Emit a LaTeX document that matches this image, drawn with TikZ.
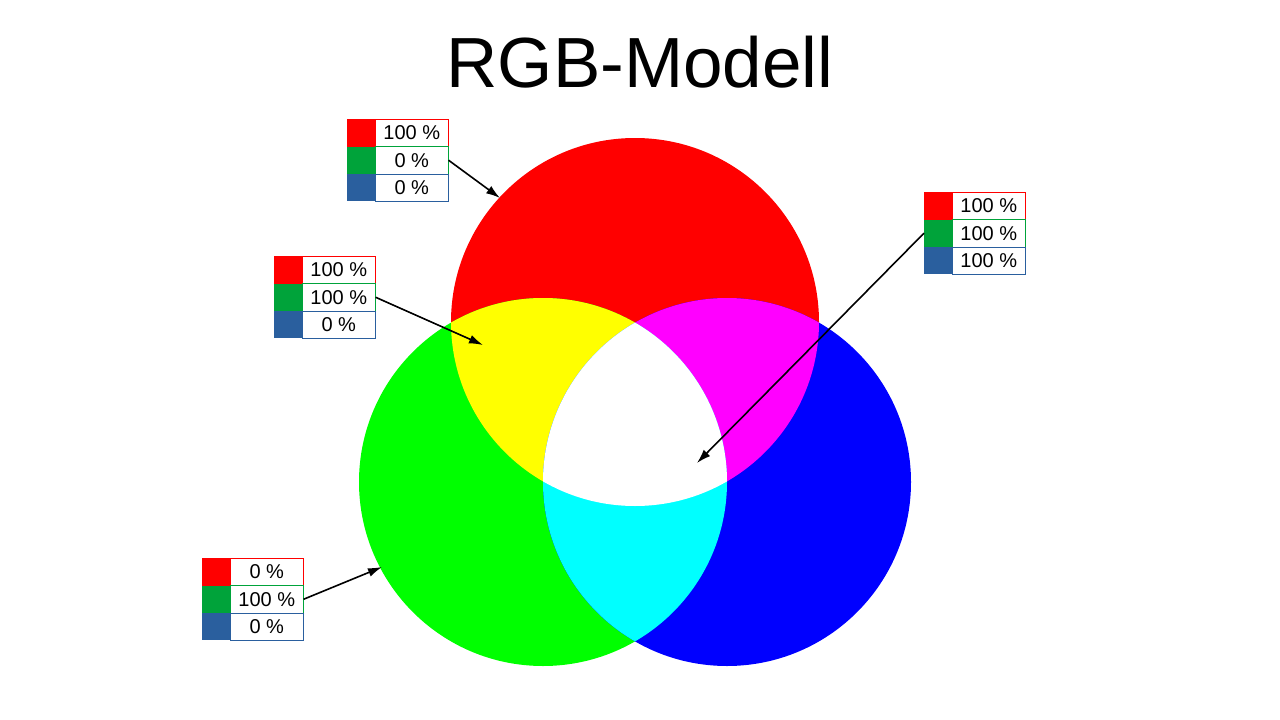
\documentclass[tikz,border=0pt]{standalone}
\usepackage{fontspec}
\setmainfont{Liberation Sans}
\usetikzlibrary{arrows.meta}
\definecolor{lr}{HTML}{FF0000}
\definecolor{lg}{HTML}{00A33A}
\definecolor{lb}{HTML}{2A5F9E}
\definecolor{cR}{HTML}{FF0000}
\definecolor{cG}{HTML}{00FF00}
\definecolor{cB}{HTML}{0000FF}
\definecolor{cY}{HTML}{FFFF00}
\definecolor{cM}{HTML}{FF00FF}
\definecolor{cC}{HTML}{00FFFF}
\tikzset{
 sq/.style={minimum width=28pt,minimum height=27.3pt,inner sep=0pt,anchor=north west},
 cell/.style={draw=#1,line width=0.6pt,minimum width=73pt,minimum height=27.3pt,inner sep=0pt,anchor=north west,font=\fontsize{20}{20}\selectfont},
 arr/.style={-{Latex[length=14pt,width=9pt]},line width=1.6pt}
}
\newcommand{\lgnd}[5]{%
 \node[sq,fill=lr] (#1r) at (#2,#3) {};
 \node[sq,fill=lg] (#1g) at (#2,#3+27.3) {};
 \node[sq,fill=lb] (#1b) at (#2,#3+54.6) {};
 \node[cell=lr] (#1tr) at (#2+28,#3) {#4};
 \node[cell=lg] (#1tg) at (#2+28,#3+27.3) {#5};
 \node[cell=lb] (#1tb) at (#2+28,#3+54.6) {0 \%};
}
\begin{document}
\begin{tikzpicture}[x=1pt,y=-1pt]
\useasboundingbox (0,0) rectangle (1280,720);
\fill[white] (0,0) rectangle (1280,720);
\node[font=\fontsize{71}{71}\selectfont] (title) at (640,62) {RGB-Modell};
\def\R{184}
\fill[cR] (635,322) circle (\R);
\fill[cG] (543,482) circle (\R);
\fill[cB] (727,482) circle (\R);
\begin{scope}\clip (635,322) circle (\R); \fill[cY] (543,482) circle (\R); \fill[cM] (727,482) circle (\R);\end{scope}
\begin{scope}\clip (543,482) circle (\R); \fill[cC] (727,482) circle (\R);\end{scope}
\begin{scope}\clip (635,322) circle (\R); \clip (543,482) circle (\R); \fill[white] (727,482) circle (\R);\end{scope}
\lgnd{a}{347}{119}{100 \%}{0 \%}
\lgnd{b}{274}{256}{100 \%}{100 \%}
\lgnd{d}{202}{558}{0 \%}{100 \%}
\node[sq,fill=lr] (cr) at (924,192) {};
\node[sq,fill=lg] (cg) at (924,219.3) {};
\node[sq,fill=lb] (cb) at (924,246.6) {};
\node[cell=lr] (ctr) at (952,192) {100 \%};
\node[cell=lg] (ctg) at (952,219.3) {100 \%};
\node[cell=lb] (ctb) at (952,246.6) {100 \%};
\coordinate (pa) at (500,198);
\coordinate (pb) at (483,345);
\coordinate (pd) at (382,567);
\coordinate (pc) at (697,463);
\draw[arr] (atg.east) -- (pa);
\draw[arr] (btg.east) -- (pb);
\draw[arr] (dtg.east) -- (pd);
\draw[arr] (cg.west) -- (pc);
\end{tikzpicture}
\end{document}
